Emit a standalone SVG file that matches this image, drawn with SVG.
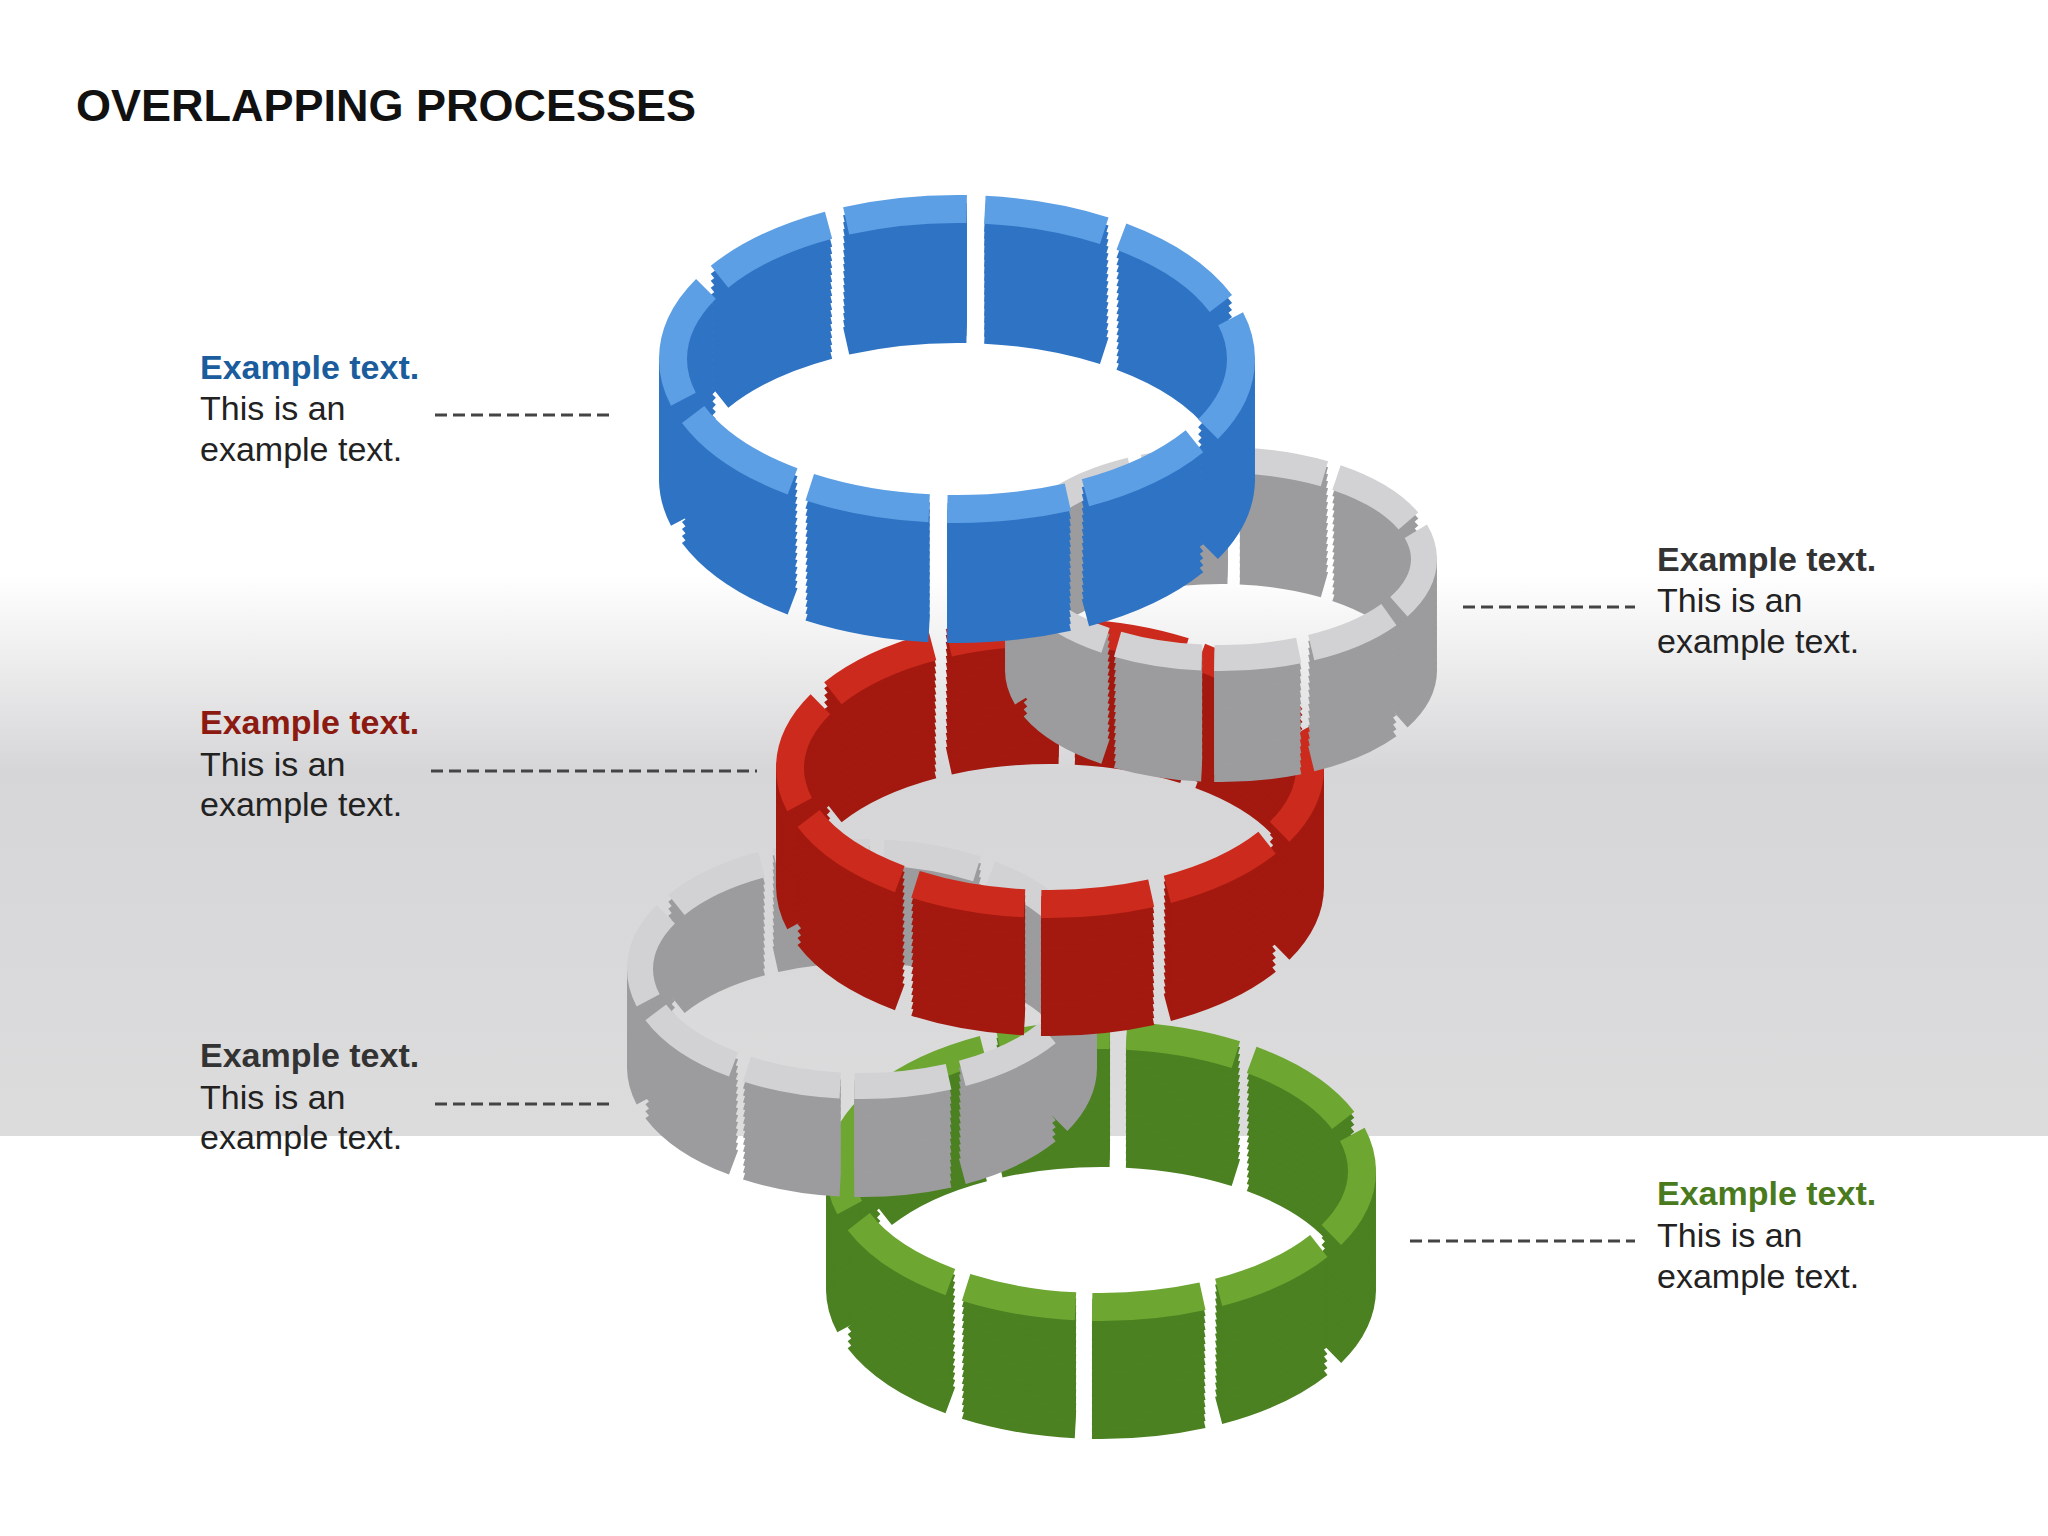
<svg xmlns="http://www.w3.org/2000/svg" xmlns:xlink="http://www.w3.org/1999/xlink" width="2048" height="1536" viewBox="0 0 2048 1536">
<defs>
<linearGradient id="bg" x1="0" y1="0" x2="0" y2="1">
<stop offset="0" stop-color="#ffffff"/><stop offset="0.35" stop-color="#d6d6d8"/><stop offset="1" stop-color="#dcdcdd"/>
</linearGradient>
<ellipse id="eB" cx="0" cy="0" rx="284" ry="150" pathLength="100"/>
<ellipse id="eG1" cx="0" cy="0" rx="203" ry="99" pathLength="100"/>
<ellipse id="eR" cx="0" cy="0" rx="260" ry="136" pathLength="100"/>
<ellipse id="eG2" cx="0" cy="0" rx="222" ry="117" pathLength="100"/>
<ellipse id="eGr" cx="0" cy="0" rx="261" ry="136" pathLength="100"/>
</defs>
<style>
.r{fill:none;stroke-dasharray:8.7 1.3;stroke-dashoffset:3}
.bw{stroke:#2f74c4;stroke-width:28}.bt{stroke:#5d9fe4;stroke-width:28}
.rw{stroke:#a3190f;stroke-width:28}.rt{stroke:#cc2a1c;stroke-width:28}
.gw{stroke:#9c9c9e;stroke-width:26}.gt{stroke:#d2d2d4;stroke-width:26}
.nw{stroke:#4b8121;stroke-width:28}.nt{stroke:#6ea632;stroke-width:28}
.h{font-family:"Liberation Sans",Arial,sans-serif;font-weight:bold;font-size:34px}
.t{font-family:"Liberation Sans",Arial,sans-serif;font-size:34px;fill:#222}
.d{stroke:#444;stroke-width:3;stroke-dasharray:12 6}
</style>
<rect x="0" y="0" width="2048" height="1536" fill="#fff"/>
<rect x="0" y="575" width="2048" height="561" fill="url(#bg)"/>
<text x="76" y="121" font-family="Liberation Sans,Arial,sans-serif" font-weight="bold" font-size="45" fill="#111">OVERLAPPING PROCESSES</text>

<g id="ring-green" class="r">
<use href="#eGr" x="1101" y="1289" class="nw"/><use href="#eGr" x="1101" y="1282" class="nw"/><use href="#eGr" x="1101" y="1275" class="nw"/><use href="#eGr" x="1101" y="1268" class="nw"/><use href="#eGr" x="1101" y="1261" class="nw"/><use href="#eGr" x="1101" y="1254" class="nw"/><use href="#eGr" x="1101" y="1247" class="nw"/><use href="#eGr" x="1101" y="1240" class="nw"/><use href="#eGr" x="1101" y="1233" class="nw"/><use href="#eGr" x="1101" y="1226" class="nw"/><use href="#eGr" x="1101" y="1219" class="nw"/><use href="#eGr" x="1101" y="1212" class="nw"/><use href="#eGr" x="1101" y="1205" class="nw"/><use href="#eGr" x="1101" y="1198" class="nw"/><use href="#eGr" x="1101" y="1191" class="nw"/><use href="#eGr" x="1101" y="1184" class="nw"/><use href="#eGr" x="1101" y="1177" class="nw"/><use href="#eGr" x="1101" y="1171" class="nt"/>
</g>
<g id="ring-gray2" class="r">
<use href="#eG2" x="862" y="1067" class="gw"/><use href="#eG2" x="862" y="1060" class="gw"/><use href="#eG2" x="862" y="1053" class="gw"/><use href="#eG2" x="862" y="1046" class="gw"/><use href="#eG2" x="862" y="1039" class="gw"/><use href="#eG2" x="862" y="1032" class="gw"/><use href="#eG2" x="862" y="1025" class="gw"/><use href="#eG2" x="862" y="1018" class="gw"/><use href="#eG2" x="862" y="1011" class="gw"/><use href="#eG2" x="862" y="1004" class="gw"/><use href="#eG2" x="862" y="997" class="gw"/><use href="#eG2" x="862" y="990" class="gw"/><use href="#eG2" x="862" y="983" class="gw"/><use href="#eG2" x="862" y="976" class="gw"/><use href="#eG2" x="862" y="969" class="gt"/>
</g>
<g id="ring-red" class="r">
<use href="#eR" x="1050" y="886" class="rw"/><use href="#eR" x="1050" y="879" class="rw"/><use href="#eR" x="1050" y="872" class="rw"/><use href="#eR" x="1050" y="865" class="rw"/><use href="#eR" x="1050" y="858" class="rw"/><use href="#eR" x="1050" y="851" class="rw"/><use href="#eR" x="1050" y="844" class="rw"/><use href="#eR" x="1050" y="837" class="rw"/><use href="#eR" x="1050" y="830" class="rw"/><use href="#eR" x="1050" y="823" class="rw"/><use href="#eR" x="1050" y="816" class="rw"/><use href="#eR" x="1050" y="809" class="rw"/><use href="#eR" x="1050" y="802" class="rw"/><use href="#eR" x="1050" y="795" class="rw"/><use href="#eR" x="1050" y="788" class="rw"/><use href="#eR" x="1050" y="781" class="rw"/><use href="#eR" x="1050" y="774" class="rw"/><use href="#eR" x="1050" y="768" class="rt"/>
</g>
<g id="ring-gray1" class="r">
<use href="#eG1" x="1221" y="670" class="gw"/><use href="#eG1" x="1221" y="663" class="gw"/><use href="#eG1" x="1221" y="656" class="gw"/><use href="#eG1" x="1221" y="649" class="gw"/><use href="#eG1" x="1221" y="642" class="gw"/><use href="#eG1" x="1221" y="635" class="gw"/><use href="#eG1" x="1221" y="628" class="gw"/><use href="#eG1" x="1221" y="621" class="gw"/><use href="#eG1" x="1221" y="614" class="gw"/><use href="#eG1" x="1221" y="607" class="gw"/><use href="#eG1" x="1221" y="600" class="gw"/><use href="#eG1" x="1221" y="593" class="gw"/><use href="#eG1" x="1221" y="586" class="gw"/><use href="#eG1" x="1221" y="579" class="gw"/><use href="#eG1" x="1221" y="572" class="gw"/><use href="#eG1" x="1221" y="565" class="gw"/><use href="#eG1" x="1221" y="559" class="gt"/>
</g>
<g id="ring-blue" class="r">
<use href="#eB" x="957" y="479" class="bw"/><use href="#eB" x="957" y="472" class="bw"/><use href="#eB" x="957" y="465" class="bw"/><use href="#eB" x="957" y="458" class="bw"/><use href="#eB" x="957" y="451" class="bw"/><use href="#eB" x="957" y="444" class="bw"/><use href="#eB" x="957" y="437" class="bw"/><use href="#eB" x="957" y="430" class="bw"/><use href="#eB" x="957" y="423" class="bw"/><use href="#eB" x="957" y="416" class="bw"/><use href="#eB" x="957" y="409" class="bw"/><use href="#eB" x="957" y="402" class="bw"/><use href="#eB" x="957" y="395" class="bw"/><use href="#eB" x="957" y="388" class="bw"/><use href="#eB" x="957" y="381" class="bw"/><use href="#eB" x="957" y="374" class="bw"/><use href="#eB" x="957" y="367" class="bw"/><use href="#eB" x="957" y="359" class="bt"/>
</g>

<g id="connectors">
<line class="d" x1="435" y1="415" x2="609" y2="415"/>
<line class="d" x1="1463" y1="607" x2="1635" y2="607"/>
<line class="d" x1="431" y1="771" x2="757" y2="771"/>
<line class="d" x1="435" y1="1104" x2="609" y2="1104"/>
<line class="d" x1="1410" y1="1241" x2="1635" y2="1241"/>
</g>

<g id="label-blue"><text class="h" x="200" y="379" fill="#1a5c9c">Example text.</text><text class="t" x="200" y="420">This is an</text><text class="t" x="200" y="461">example text.</text></g>
<g id="label-gray1"><text class="h" x="1657" y="571" fill="#333">Example text.</text><text class="t" x="1657" y="612">This is an</text><text class="t" x="1657" y="653">example text.</text></g>
<g id="label-red"><text class="h" x="200" y="734" fill="#8c1a10">Example text.</text><text class="t" x="200" y="776">This is an</text><text class="t" x="200" y="816">example text.</text></g>
<g id="label-gray2"><text class="h" x="200" y="1067" fill="#333">Example text.</text><text class="t" x="200" y="1109">This is an</text><text class="t" x="200" y="1149">example text.</text></g>
<g id="label-green"><text class="h" x="1657" y="1205" fill="#4a7a1e">Example text.</text><text class="t" x="1657" y="1247">This is an</text><text class="t" x="1657" y="1288">example text.</text></g>
</svg>
